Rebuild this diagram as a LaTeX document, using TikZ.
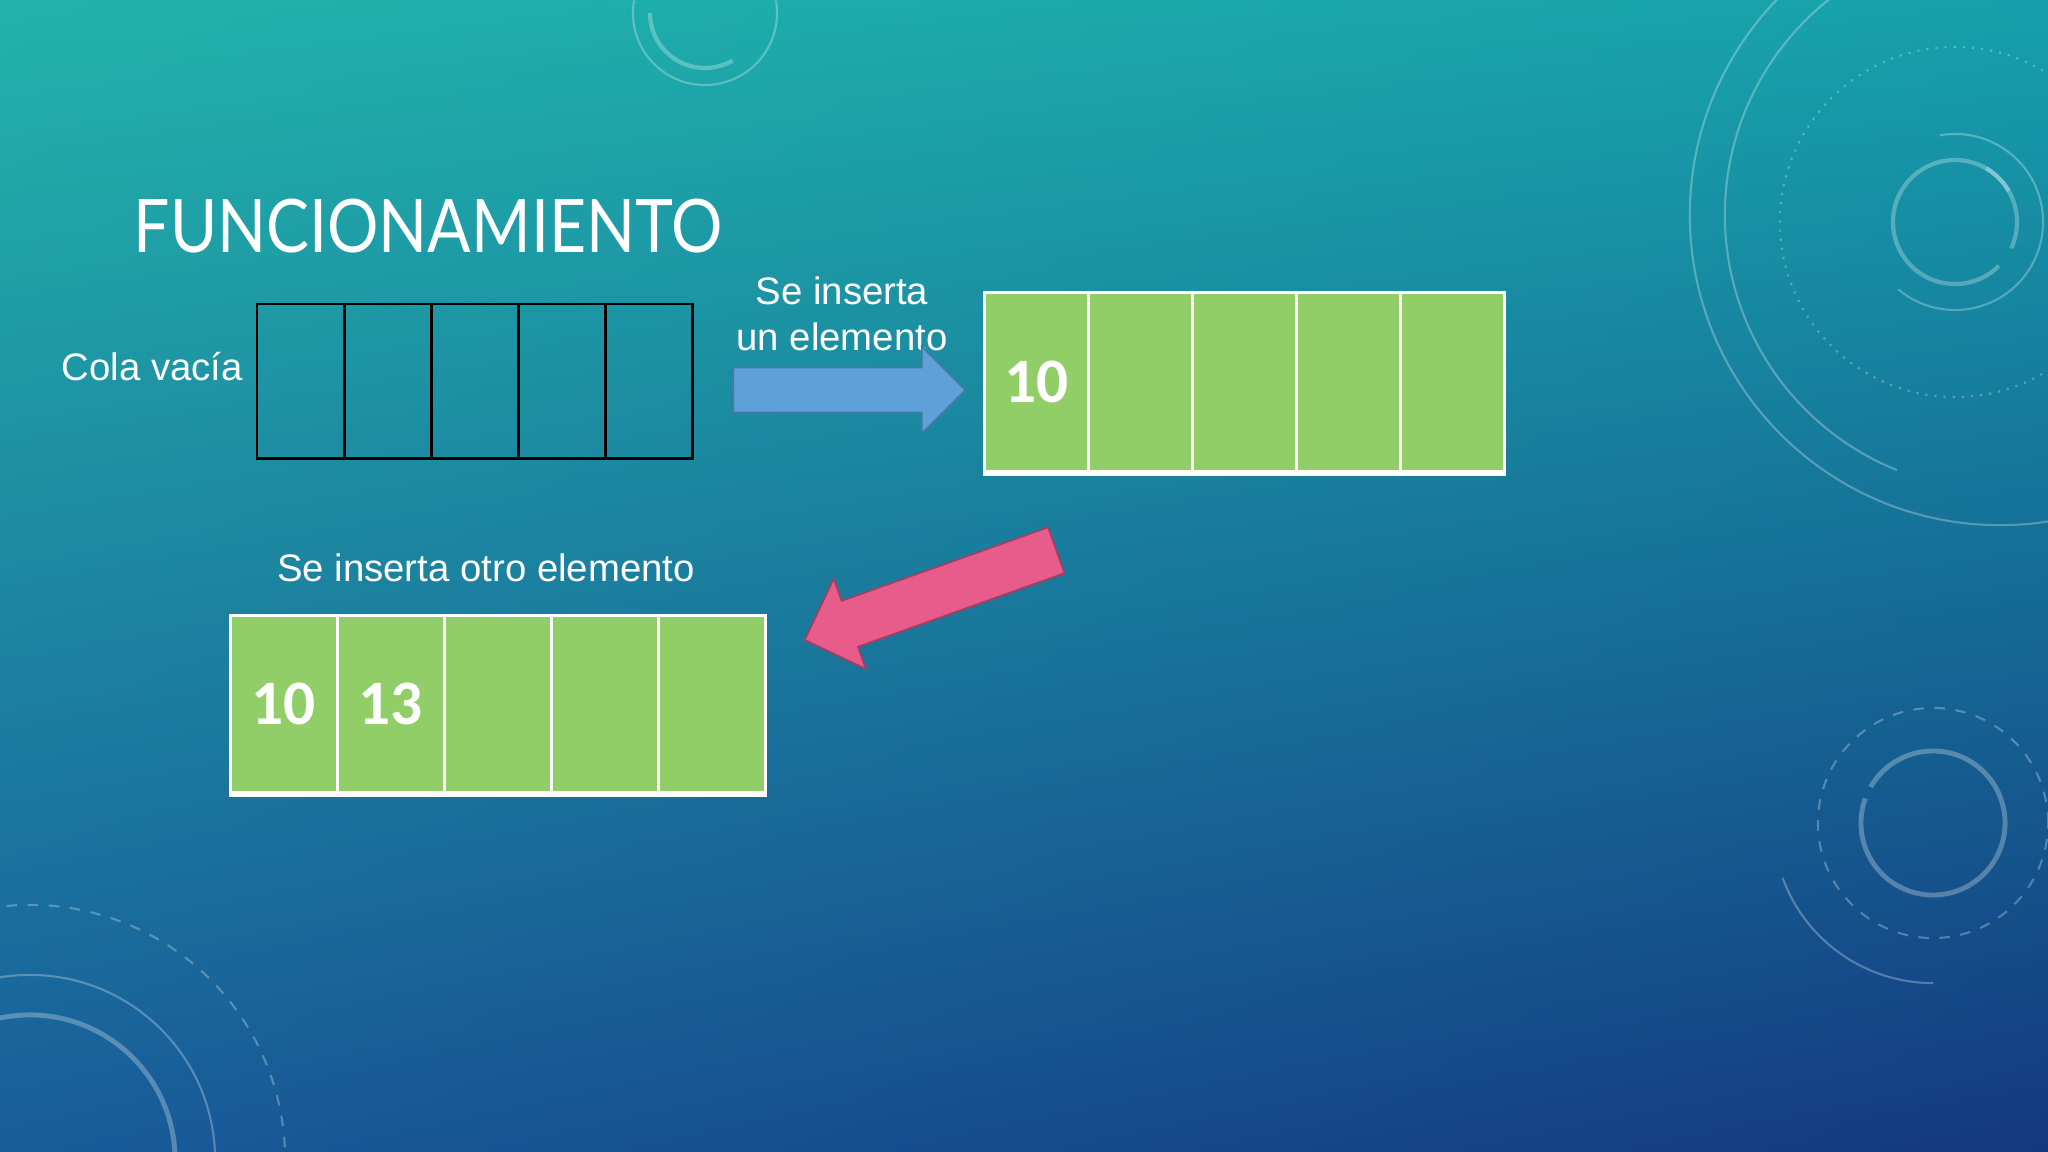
\documentclass[tikz,border=0pt]{standalone}
\usepackage{fontspec}
\setmainfont{Liberation Sans}
\newfontfamily\titlefont{Lato}
\newfontfamily\numfont{Carlito}
\usetikzlibrary{shapes.arrows,shadings,positioning}

\definecolor{bgtl}{RGB}{34,180,170}
\definecolor{bgtr}{RGB}{22,160,172}
\definecolor{bgbl}{RGB}{24,92,154}
\definecolor{bgbr}{RGB}{20,56,128}
\definecolor{cellgreen}{RGB}{146,206,104}
\definecolor{arrowblue}{RGB}{93,161,216}
\definecolor{arrowpink}{RGB}{231,92,138}

\tikzset{
  emptycell/.style={draw=black,line width=0.7pt,minimum width=0.87cm,
    minimum height=1.54cm,anchor=north west,inner sep=0pt},
  gcell/.style={draw=white,line width=0.8pt,fill=cellgreen,anchor=north west,
    inner sep=0pt,text=white,font=\numfont\bfseries\fontsize{18}{20}\selectfont},
  lbl/.style={text=white,font=\fontsize{10.9}{13.2}\selectfont,align=center},
  blockarrow/.style={single arrow,inner xsep=0pt,single arrow tip angle=90,
    line width=0.5pt},
  deco/.style={white,opacity=0.28,line width=0.6pt}
}

\begin{document}
\begin{tikzpicture}[x=0.01cm,y=-0.01cm]

% background of the slide
\useasboundingbox (0,0) rectangle (2048,1152);
\shade[upper left=bgtl,upper right=bgtr,lower left=bgbl,lower right=bgbr]
  (0,0) rectangle (2048,1152);
\clip (0,0) rectangle (2048,1152);

% rings
\draw[deco] (2000,215) circle[radius=3.1cm];
\draw[deco] (2000,215) ++(90:2.75cm) arc[start angle=90,end angle=248,radius=2.75cm];
\draw[deco,dotted] (1955,222) circle[radius=1.75cm];
\draw[deco,line width=1.2pt] (1955,222) ++(60:0.62cm) arc[start angle=60,end angle=-25,radius=0.62cm];
\draw[deco,line width=1.2pt] (1955,222) ++(-45:0.62cm) arc[start angle=-45,end angle=-330,radius=0.62cm];
\draw[deco] (1955,222) ++(100:0.88cm) arc[start angle=100,end angle=-130,radius=0.88cm];
\draw[deco] (30,1160) circle[radius=1.85cm];
\draw[deco,line width=1.4pt] (30,1160) circle[radius=1.45cm];
\draw[deco,dashed] (30,1160) ++(100:2.55cm) arc[start angle=100,end angle=0,radius=2.55cm];
\draw[deco,line width=1.4pt] (1933,823) ++(150:0.72cm) arc[start angle=150,end angle=-200,radius=0.72cm];
\draw[deco,dashed] (1933,823) circle[radius=1.15cm];
\draw[deco] (1933,823) ++(200:1.6cm) arc[start angle=200,end angle=270,radius=1.6cm];
\draw[deco,line width=1.2pt] (705,13) ++(180:0.55cm) arc[start angle=180,end angle=300,radius=0.55cm];
\draw[deco] (705,13) ++(170:0.72cm) arc[start angle=170,end angle=370,radius=0.72cm];

% title
\node[anchor=base west,text=white,inner sep=0pt,
  font=\titlefont\fontsize{21}{24}\selectfont] (title) at (133,253)
  {\scalebox{0.87}[1]{FUNCIONAMIENTO}};

% empty queue
\node[lbl,anchor=base west,inner sep=0pt] (vacia) at (61,381) {Cola vacía};
\foreach \i in {0,...,4}
  \node[emptycell] (e\i) at ({256+87*\i},303) {};

% first insertion
\node[lbl] (ins1) at (842,314) {Se inserta\\un elemento};
\node[blockarrow,fill=arrowblue,draw=arrowblue!75!black,inner ysep=0.215cm,
  minimum height=2.32cm,single arrow head extend=0.21cm]
  (flecha1) at (838,390) {};

\node[gcell,minimum width=1.04cm,minimum height=1.79cm] (a0) at (983,291) {10};
\foreach \i in {1,...,4}
  \node[gcell,minimum width=1.04cm,minimum height=1.79cm] (a\i) at ({983+104*\i},291) {};
\draw[white,line width=1.7pt] (a0.south west) -- (a4.south east);

% second insertion
\node[blockarrow,fill=arrowpink,draw=arrowpink!70!black,rotate=199.6,
  inner ysep=0.235cm,minimum height=2.67cm,single arrow head extend=0.235cm]
  (flecha2) at (942,591) {};
\node[lbl,anchor=base,inner sep=0pt] (ins2) at (486,581) {Se inserta otro elemento};

\node[gcell,minimum width=1.07cm,minimum height=1.77cm] (b0) at (229,614) {10};
\node[gcell,minimum width=1.07cm,minimum height=1.77cm] (b1) at (336,614) {13};
\foreach \i in {2,...,4}
  \node[gcell,minimum width=1.07cm,minimum height=1.77cm] (b\i) at ({229+107*\i},614) {};
\draw[white,line width=1.7pt] (b0.south west) -- (b4.south east);

\end{tikzpicture}
\end{document}
